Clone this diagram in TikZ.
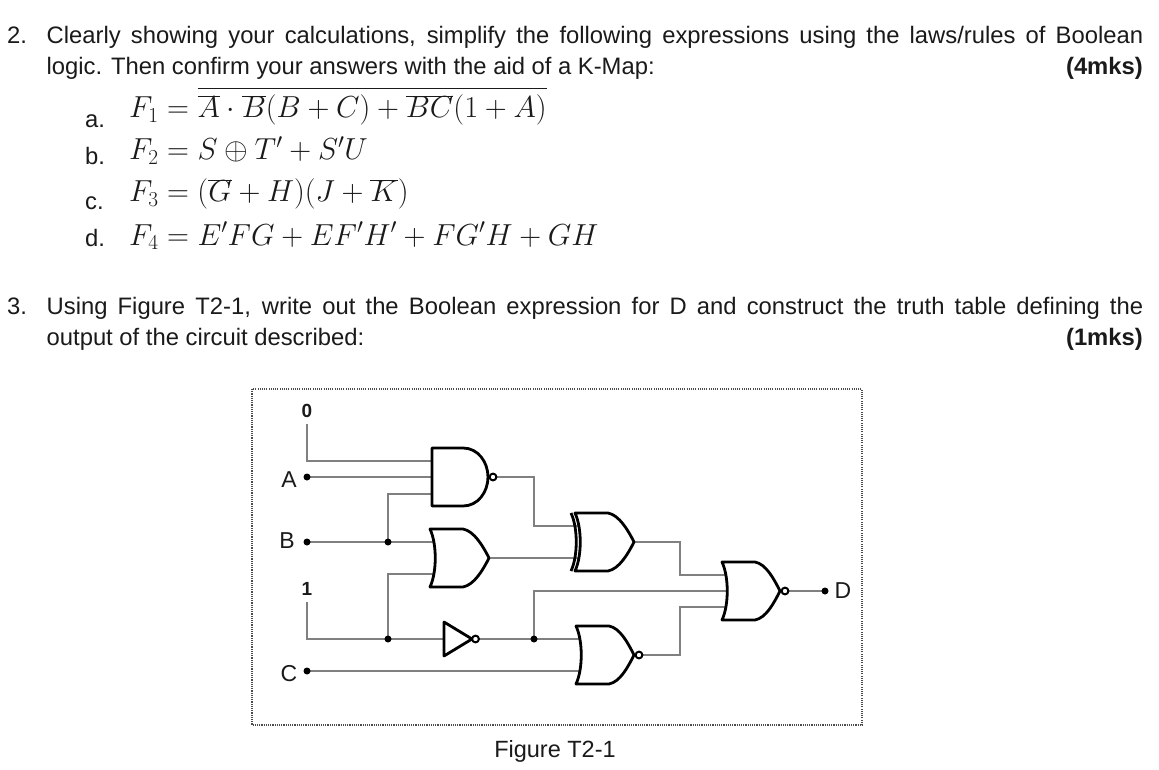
\documentclass[tikz,border=0pt]{standalone}
\usepackage{fix-cm}
\usepackage[no-math]{fontspec}
\setmainfont{Liberation Sans}
\usetikzlibrary{backgrounds}
\definecolor{wiregray}{HTML}{808080}
\definecolor{ink}{HTML}{1A1A1A}
\newcommand{\bodyfs}{\fontsize{23.8}{28}\selectfont}
\newcommand{\mathfs}{\fontsize{30.4}{34}\selectfont}
\tikzset{
  txt/.style={anchor=base west,inner sep=0pt,text=ink,font=\bodyfs},
  txtr/.style={anchor=base east,inner sep=0pt,text=ink,font=\bodyfs\bfseries},
  mth/.style={anchor=base west,inner sep=0pt,text=ink,font=\mathfs},
  wire/.style={draw=wiregray,line width=2.7pt},
  gateline/.style={draw=black,line width=2.8pt,fill=white,line join=round},
  dotn/.style={circle,fill=black,inner sep=0pt,minimum size=7pt},
  pinlabel/.style={inner sep=0pt,text=ink,font=\fontsize{23}{24}\selectfont},
  bitlabel/.style={inner sep=0pt,text=ink,font=\fontsize{19}{20}\selectfont\bfseries},
  nandshape/.pic={
    \path[gateline] (0,-29) -- (31,-29) .. controls (46,-29) and (56,-15) .. (56,0)
      .. controls (56,15) and (46,29) .. (31,29) -- (0,29) -- cycle;
    \draw[black,line width=2pt,fill=white] (61,0) circle (3.4pt);
    \coordinate (-a) at (2,-16); \coordinate (-b) at (2,0); \coordinate (-c) at (2,17);
    \coordinate (-o) at (64,0);
  },
  orpath/.pic={
    \path[gateline] (0,-29) -- (33,-29) .. controls (44,-27) and (53,-12) .. (59,0)
      .. controls (53,12) and (44,27) .. (33,29) -- (0,29)
      .. controls (7,14) and (7,-14) .. (0,-29) -- cycle;
    \coordinate (-a) at (4,-16); \coordinate (-b) at (6,0); \coordinate (-c) at (4,16);
    \coordinate (-o) at (59,0);
  },
  norshape/.pic={
    \path[gateline] (0,-29) -- (33,-29) .. controls (44,-27) and (52,-12) .. (58,0)
      .. controls (52,12) and (44,27) .. (33,29) -- (0,29)
      .. controls (7,14) and (7,-14) .. (0,-29) -- cycle;
    \draw[black,line width=2pt,fill=white] (63,0) circle (3.4pt);
    \coordinate (-a) at (4,-16); \coordinate (-b) at (6,0); \coordinate (-c) at (4,16);
    \coordinate (-o) at (66,0);
  },
  invshape/.pic={
    \path[gateline] (0,-17) -- (28,0) -- (0,17) -- cycle;
    \draw[black,line width=2pt,fill=white] (31.5,0) circle (3.4pt);
    \coordinate (-i) at (1,0); \coordinate (-o) at (35,0);
  },
}
\begin{document}
\begin{tikzpicture}[x=1pt,y=-1pt]
\useasboundingbox (0,0) rectangle (1159,770);
% --- question text
\node[txt] (q2n) at (7,44) {2.};
\node[txt] (q2a) at (46.5,44) {\makebox[1096.5pt][s]{Clearly showing your calculations, simplify the following expressions using the laws/rules of Boolean}};
\node[txt] (q2b) at (46.5,75) {logic. Then confirm your answers with the aid of a K-Map:};
\node[txtr] (q2m) at (1143,75) {(4mks)};
\node[txt] (la) at (85,128) {a.};
\node[txt] (lb) at (85,165) {b.};
\node[txt] (lc) at (85,210) {c.};
\node[txt] (ld) at (85,247) {d.};
\node[mth] (f1) at (129,118) {$F_1=\overline{\rule{0pt}{28pt}\overline{A}\cdot\overline{B}(B+C)+\overline{BC}(1+A)}$};
\node[mth] (f2) at (129,160) {$F_2=S\oplus T'+S'U$};
\node[mth] (f3) at (129,202) {$F_3=(\overline{G}+H)(J+\overline{K})$};
\node[mth] (f4) at (129,245) {$F_4=E'FG+EF'H'+FG'H+GH$};
\node[txt] (q3n) at (7,314) {3.};
\node[txt] (q3a) at (46.5,314) {\makebox[1096.5pt][s]{Using Figure T2-1, write out the Boolean expression for D and construct the truth table defining the}};
\node[txt] (q3b) at (46.5,345) {output of the circuit described:};
\node[txtr] (q3m) at (1143,345) {(1mks)};
% --- frame
\draw[black!70,line width=1.3pt,dash pattern=on 1.1pt off 1.1pt] (252,389) rectangle (862,725);
\node[txt,anchor=base,font=\fontsize{23.5}{28}\selectfont] (cap) at (555,757) {Figure T2-1};
% --- pins
\coordinate (zero) at (307,424);
\coordinate (one) at (307,602);
\node[dotn] (A) at (307,477) {};
\node[dotn] (B) at (307,542) {};
\node[dotn] (C) at (307,671) {};
\node[dotn] (jb) at (388,542) {};
\node[dotn] (j1) at (388,639) {};
\node[dotn] (jn) at (534,639) {};
\node[dotn] (D) at (825,591) {};
\node[bitlabel] (l0) at (307,411) {0};
\node[bitlabel] (l1) at (307,589) {1};
\node[pinlabel] (lA) at (289,480) {A};
\node[pinlabel] (lB) at (287,541) {B};
\node[pinlabel] (lC) at (289,674) {C};
\node[pinlabel] (lD) at (843,591) {D};
% --- gates
\coordinate (g1pos) at (432,477);
\coordinate (g2pos) at (430,558);
\coordinate (g3pos) at (575,542);
\coordinate (g4pos) at (444,639);
\coordinate (g5pos) at (576,655);
\coordinate (g6pos) at (722,591);
\path (g1pos) pic (g1) {nandshape};
\path (g2pos) pic (g2) {orpath};
\path (g3pos) pic (g3) {orpath};
\path (g4pos) pic (g4) {invshape};
\path (g5pos) pic (g5) {norshape};
\path (g6pos) pic (g6) {norshape};
% --- wires, under the gates
\begin{pgfonlayer}{background}
\fill[white] (0,0) rectangle (1159,770);
\draw[wire] (zero) |- (g1-a);
\draw[wire] (A.center) -- (g1-b);
\draw[wire] (jb.center) |- (g1-c);
\draw[wire] (B.center) -- (g2-a);
\draw[wire] (j1.center) |- (g2-c);
\draw[wire] (one) |- (g4-i);
\draw[wire] (g4-o) -- (g5-a);
\draw[wire] (C.center) -- (g5-c);
\draw[wire] (jn.center) |- (g6-b);
\draw[wire] (g1-o) -| (534,526) -- (g3-a);
\draw[wire] (g2-o) -- (g3-c);
\draw[wire] (g3-o) -| (680,575) -- (g6-a);
\draw[wire] (g5-o) -| (680,607) -- (g6-c);
\draw[wire] (g6-o) -- (D.center);
\end{pgfonlayer}
% --- extra back curve of the XOR
\draw[black,line width=2.8pt] (571,513) .. controls (578,528) and (578,556) .. (571,571);
\end{tikzpicture}
\end{document}
